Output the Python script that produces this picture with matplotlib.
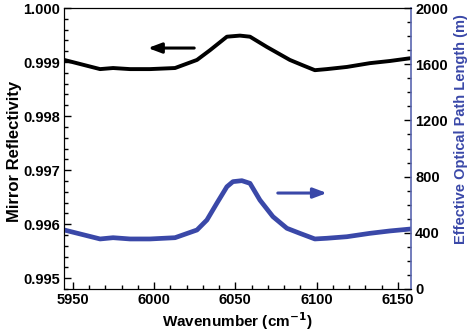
import matplotlib
matplotlib.use("Agg")
import matplotlib.pyplot as plt
from matplotlib.ticker import MultipleLocator

plt.rcParams["font.family"] = ["Liberation Sans", "DejaVu Sans"]
plt.rcParams["font.weight"] = "bold"
plt.rcParams["mathtext.default"] = "bf"

# reflectivity curve (left axis)
wn_r = [5944.7, 5966.8, 5974.8, 5985.2, 5997.5, 6012.9, 6026.4, 6034.4, 6044.8,
        6052.8, 6059.0, 6069.4, 6083.5, 6091.5, 6098.9, 6106.3, 6118.6, 6132.7,
        6145.0, 6157.3]
refl = [0.99904, 0.99887, 0.99889, 0.99887, 0.99887, 0.99889, 0.99904, 0.99922,
        0.99947, 0.99949, 0.99947, 0.99928, 0.99904, 0.99894, 0.99885, 0.99887,
        0.99891, 0.99898, 0.99902, 0.99907]

# effective optical path length (right axis, m)
wn_l = [5944.7, 5966.8, 5974.8, 5985.2, 5997.5, 6012.9, 6026.4, 6032.5, 6038.7,
        6044.8, 6048.5, 6054.0, 6059.0, 6065.1, 6073.1, 6081.7, 6089.7, 6098.9,
        6106.3, 6118.6, 6132.7, 6145.0, 6157.9]
path = [420, 356, 365, 356, 356, 365, 420, 491, 612, 728, 764, 771, 752, 633,
        515, 432, 396, 356, 361, 372, 396, 413, 427]

BLUE = "#3a48a8"

fig, ax = plt.subplots(figsize=(4.74, 3.36), dpi=100)
fig.subplots_adjust(left=0.135, right=0.867, top=0.976, bottom=0.140)
ax2 = ax.twinx()

ax.plot(wn_r, refl, color="black", lw=2.8, solid_capstyle="round",
        solid_joinstyle="round")
ax2.plot(wn_l, path, color=BLUE, lw=3.4, solid_capstyle="round",
         solid_joinstyle="round")

ax.set_xlim(5944.6, 6158)
ax.set_ylim(0.99480, 1.000)
ax2.set_ylim(0, 2000)

ax.xaxis.set_major_locator(MultipleLocator(50))
ax.xaxis.set_minor_locator(MultipleLocator(10))
ax.yaxis.set_major_locator(MultipleLocator(0.001))
ax.yaxis.set_minor_locator(MultipleLocator(0.0002))
ax.yaxis.set_major_formatter(plt.FormatStrFormatter("%.3f"))
ax2.yaxis.set_major_locator(MultipleLocator(400))
ax2.yaxis.set_minor_locator(MultipleLocator(100))

for a in (ax, ax2):
    a.tick_params(which="both", direction="in", labelsize=10.5, pad=3)
    a.tick_params(which="major", length=5, width=1)
    a.tick_params(which="minor", length=3, width=1)
ax.tick_params(axis="x", which="both", top=False)
ax.tick_params(axis="y", which="both", right=False)

ax2.spines["right"].set_color("#5a66b0")
ax2.spines["right"].set_linewidth(1.2)
ax.spines["right"].set_visible(False)

ax.set_xlabel("Wavenumber (cm$^{-1}$)", fontsize=11, fontweight="bold", labelpad=2)
ax.set_ylabel("Mirror Reflectivity", fontsize=12, fontweight="bold")
ax.yaxis.set_label_coords(-0.12, 0.49)
ax2.set_ylabel("Effective Optical Path Length (m)", fontsize=10.5, fontweight="bold",
               color=BLUE)
ax2.yaxis.set_label_coords(1.125, 0.57)

# direction arrows
ax.annotate("", xy=(5994.5, 0.99926), xytext=(6026.4, 0.99926),
            arrowprops=dict(arrowstyle="-|>,head_length=0.8,head_width=0.3",
                            color="black", lw=2.2))
ax2.annotate("", xy=(6108, 683), xytext=(6074.4, 683),
             arrowprops=dict(arrowstyle="-|>,head_length=0.8,head_width=0.3",
                             color=BLUE, lw=2.2))

fig.savefig("out.png", dpi=100)
